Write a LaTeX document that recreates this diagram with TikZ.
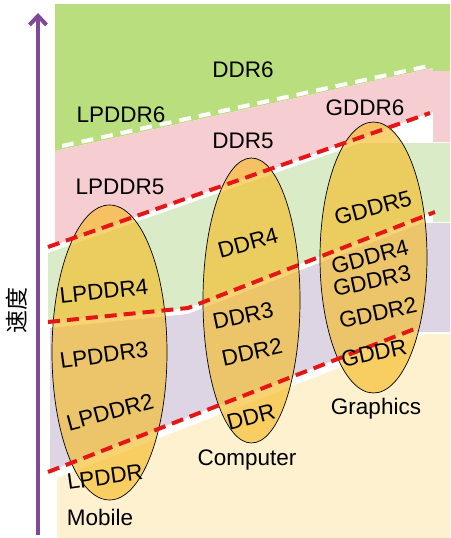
\documentclass[tikz,border=0pt]{standalone}
\usepackage{fontspec}
\setmainfont{Liberation Sans}
\newfontfamily\cjkfont{Noto Sans CJK SC}
\usetikzlibrary{shapes.geometric}
\usetikzlibrary{arrows.meta}

\definecolor{bandGreen}{RGB}{185,222,125}
\definecolor{bandPink}{RGB}{246,205,208}
\definecolor{bandMint}{RGB}{218,236,199}
\definecolor{bandLilac}{RGB}{221,212,228}
\definecolor{bandCream}{RGB}{254,241,208}
\definecolor{chipFill}{RGB}{245,188,40}
\definecolor{lineRed}{RGB}{228,22,22}
\definecolor{axisPurple}{RGB}{130,72,152}

\begin{document}
\begin{tikzpicture}[x = 1pt, y = -1pt, font = \fontsize{22.5}{27}\selectfont]
	\tikzstyle{chipStyle} = [shape = ellipse, draw, line width = 0.7pt, fill = chipFill, fill opacity = 0.65, inner sep = 0pt]
	\tikzstyle{labelStyle} = [inner sep = 0pt]
	\tikzstyle{redDash} = [draw = lineRed, line width = 4pt, dash pattern = on 12pt off 7pt]
	\tikzstyle{whiteDash} = [draw = white, line width = 4pt, dash pattern = on 12pt off 8pt]
	\useasboundingbox (0,0) rectangle (450,538);
	% speed bands
	\fill[bandGreen] (55,4) -- (450,4) -- (450,71) -- (433,71) -- (433,68) -- (55,151) -- cycle;
	\fill[bandPink] (55,151) -- (433,68) -- (433,71) -- (450,71) -- (450,142) -- (433,142) -- (433,112) -- (55,245) -- cycle;
	\fill[bandMint] (48,253) -- (361,143) -- (450,143) -- (450,222) -- (433,222) -- (433,212) -- (188,308) -- (48,322) -- cycle;
	\fill[bandLilac] (50,328) -- (188,314) -- (422,223) -- (450,223) -- (450,332) -- (417,332) -- (417,328) -- (50,471) -- cycle;
	\fill[bandCream] (57,478) -- (426,334) -- (450,334) -- (450,538) -- (57,538) -- cycle;
	% families
	\node[chipStyle, minimum width = 115pt, minimum height = 295pt] (mobileEll) at (109.5,352.5) {};
	\node[chipStyle, minimum width = 97pt, minimum height = 285pt] (computerEll) at (251.5,300.5) {};
	\node[chipStyle, minimum width = 107pt, minimum height = 271pt] (graphicsEll) at (373.5,257.5) {};
	% generation borders
	\draw[whiteDash] (62,146) -- (433,65);
	\draw[redDash] (48,247) -- (430,113);
	\draw[redDash] (48,322) -- (188,308) -- (435,212);
	\draw[redDash] (48,472) -- (417,328);
	% axis
	\coordinate (axisBottom) at (38,535);
	\coordinate (axisTop) at (38,13);
	\draw[axisPurple, line width = 4pt, -{Straight Barb[length = 9pt, width = 17pt]}] (axisBottom) -- (axisTop);
	\node[rotate = 90, inner sep = 0pt] (speedLabel) at (17,310) {\cjkfont\fontsize{23}{27}\selectfont 速度};
	% labels
	\node[labelStyle] (ddr6) at (243,70) {DDR6};
	\node[labelStyle] (lpddr6) at (121,115) {LPDDR6};
	\node[labelStyle] (ddr5) at (243,141) {DDR5};
	\node[labelStyle] (gddr6) at (365,108) {GDDR6};
	\node[labelStyle] (lpddr5) at (120,187) {LPDDR5};
	\node[labelStyle, rotate = 6] (lpddr4) at (104,291) {LPDDR4};
	\node[labelStyle, rotate = 8] (lpddr3) at (104,355) {LPDDR3};
	\node[labelStyle, rotate = 15] (lpddr2) at (110,412) {LPDDR2};
	\node[labelStyle, rotate = 8] (lpddr) at (105,477) {LPDDR};
	\node[labelStyle, rotate = 15] (ddr4) at (248,243) {DDR4};
	\node[labelStyle, rotate = 12] (ddr3) at (243,316) {DDR3};
	\node[labelStyle, rotate = 12] (ddr2) at (252,352) {DDR2};
	\node[labelStyle, rotate = 15] (ddr) at (251,417) {DDR};
	\node[labelStyle, rotate = 15] (gddr5) at (373,208) {GDDR5};
	\node[labelStyle, rotate = 15] (gddr4) at (370,257) {GDDR4};
	\node[labelStyle, rotate = 12] (gddr3) at (372,281) {GDDR3};
	\node[labelStyle, rotate = 12] (gddr2) at (378,313) {GDDR2};
	\node[labelStyle, rotate = 12] (gddr) at (374,353) {GDDR};
	\node[labelStyle] (mobile) at (100,517) {Mobile};
	\node[labelStyle] (computer) at (247,460) {Computer};
	\node[labelStyle] (graphics) at (376,409) {Graphics};
\end{tikzpicture}
\end{document}
